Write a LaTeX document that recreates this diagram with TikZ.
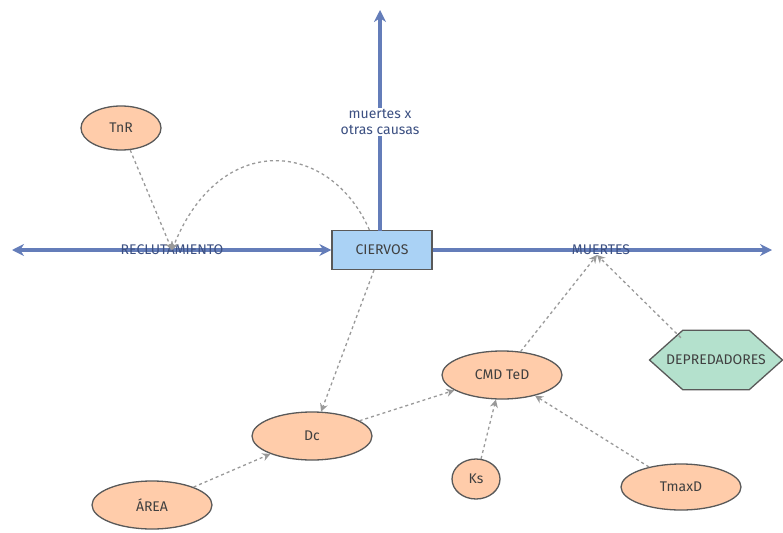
\documentclass[tikz,border=0pt]{standalone}
\usepackage{fontspec}
\setmainfont{Fira Sans}
\usetikzlibrary{shapes.geometric,arrows.meta}

\definecolor{flowblue}{RGB}{100,125,185}
\definecolor{stockfill}{RGB}{170,210,245}
\definecolor{auxfill}{RGB}{255,204,170}
\definecolor{hexfill}{RGB}{180,225,205}
\definecolor{labelblue}{RGB}{60,80,130}

\tikzset{
    flow/.style={flowblue,line width=3.2pt,-{Stealth[length=12pt,width=12pt]}},
    info/.style={gray!80,dashed,line width=1.3pt,-{Stealth[length=8pt,width=8pt]}},
    aux/.style={ellipse,draw=black!65,line width=1.3pt,fill=auxfill,font=\fontsize{14}{16}\selectfont,text=black!75},
    flowlabel/.style={font=\fontsize{14}{16}\selectfont,text=labelblue,inner sep=1pt}
}

\begin{document}
\begin{tikzpicture}[x=1pt,y=-1pt]
    \useasboundingbox (0,0) rectangle (783,532);

    % Stock
    \node[draw=black!65,line width=1.3pt,fill=stockfill,minimum width=100pt,minimum height=39pt,
          font=\fontsize{14}{16}\selectfont,text=black!75] (ciervos) at (382,250) {CIERVOS};

    % Flow ends
    \coordinate (left) at (12,250);
    \coordinate (right) at (772,250);
    \coordinate (top) at (380,10);

    % Flows
    \draw[flow,{Stealth[length=12pt,width=12pt]}-{Stealth[length=12pt,width=12pt]}] (left) -- (ciervos.west);
    \draw[flow] (ciervos.east) -- (right);
    \draw[flow] (380,230.5) -- (top);

    % Valve labels
    \node[flowlabel] (recl) at (172,250) {RECLUTAMIENTO};
    \node[flowlabel] (muertes) at (601,250) {MUERTES};
    \node[flowlabel,align=center,fill=white] (otras) at (380,122) {muertes x\\otras causas};

    % Auxiliaries
    \node[aux,minimum width=80pt,minimum height=44pt] (tnr) at (121,128) {TnR};
    \node[aux,minimum width=120pt,minimum height=48pt] (dc) at (312,436) {Dc};
    \node[aux,minimum width=120pt,minimum height=48pt] (area) at (152,505) {ÁREA};
    \node[aux,minimum width=120pt,minimum height=48pt] (cmd) at (502,375) {CMD TeD};
    \node[aux,minimum width=48pt,minimum height=40pt] (ks) at (476,479) {Ks};
    \node[aux,minimum width=120pt,minimum height=46pt] (tmaxd) at (681,487) {TmaxD};
    \node[regular polygon,regular polygon sides=6,draw=black!65,line width=1.3pt,
          fill=hexfill,minimum size=70pt,inner sep=0pt,
          xscale=1.9,yscale=0.98] (depr) at (716,360) {};
    \node[font=\fontsize{14}{16}\selectfont,text=black!75] at (depr) {DEPREDADORES};

    % Information links
    \draw[info] (tnr) -- (recl.center);
    \draw[info] (ciervos.north west) ++(38,0) .. controls (330,140) and (220,130) .. (recl.center);
    \draw[info] (ciervos.south) ++(-8,0) -- (dc);
    \draw[info] (area) -- (dc);
    \draw[info] (dc) -- (cmd);
    \draw[info] (ks) -- (cmd);
    \draw[info] (tmaxd) -- (cmd);
    \draw[info] (cmd) -- ([xshift=-4pt,yshift=-5pt]muertes.center);
    \draw[info] (depr.north west) ++(8,0) -- ([xshift=-4pt,yshift=-5pt]muertes.center);
\end{tikzpicture}
\end{document}
